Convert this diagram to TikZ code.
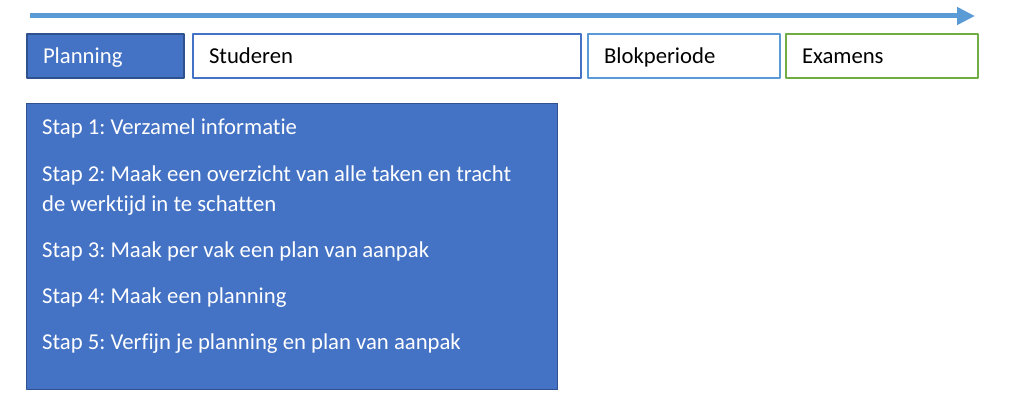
\documentclass[tikz,border=0pt]{standalone}
\usepackage{fontspec}
\setmainfont{Carlito}[RawFeature=-liga]
\usetikzlibrary{arrows.meta,positioning}
\definecolor{planblue}{HTML}{4472C4}
\definecolor{planrand}{HTML}{2F528F}
\definecolor{blokblue}{HTML}{5B9BD5}
\definecolor{examgroen}{HTML}{70AD47}
\frenchspacing
\begin{document}
\begin{tikzpicture}[x=1pt,y=-1pt,line join=round,font=\fontsize{22.7}{30}\selectfont,
	fase/.style={draw,line width=2pt,anchor=north west,minimum height=44pt,inner xsep=16pt,
		align=left,text height=16pt,text depth=0pt},
	stap/.style={anchor=base west,inner sep=0pt,text=white,align=left}]
	\useasboundingbox (0,0) rectangle (1024,401);
	% tijdlijn
	\coordinate (begin) at (30,16);
	\coordinate (eind) at (975,16);
	\draw[blokblue,line width=5pt,-{Triangle[length=18pt,width=17pt]}] (begin)--(eind);
	% fasen
	\node[fase,draw=planrand,fill=planblue,text=white,text width=125pt] (planning) at (26,33) {Planning};
	\node[fase,draw=planblue,text width=356pt] (studeren) at (192,33) {Studeren};
	\node[fase,draw=blokblue,text width=160pt] (blok) at (587,33) {Blokperiode};
	\node[fase,draw=examgroen,text width=160pt] (examens) at (785,33) {Examens};
	% stappen
	\node[draw=planrand,line width=1pt,fill=planblue,anchor=north west,minimum width=531pt,minimum height=286pt,inner sep=0pt] (stappen) at (26,103) {};
	\node[stap] (stap1) at (42,135) {Stap 1: Verzamel informatie};
	\node[stap] (stap2) at (42,211) {Stap 2: Maak een overzicht van alle taken en tracht\\de werktijd in te schatten};
	\node[stap] (stap3) at (42,257) {Stap 3: Maak per vak een plan van aanpak};
	\node[stap] (stap4) at (42,303) {Stap 4: Maak een planning};
	\node[stap] (stap5) at (42,349) {Stap 5: Verfijn je planning en plan van aanpak};
\end{tikzpicture}
\end{document}
